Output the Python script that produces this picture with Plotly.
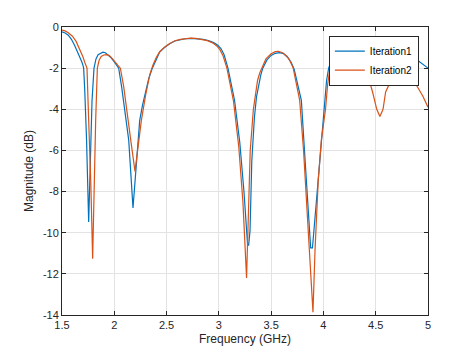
import plotly.graph_objects as go

# Iteration1 (blue)
freq1 = [1.50, 1.53, 1.56, 1.59, 1.62, 1.645, 1.67, 1.69, 1.70, 1.707, 1.717, 1.735, 1.755, 1.768, 1.781, 1.787, 1.806,
         1.825, 1.845, 1.87, 1.892, 1.915, 1.94, 1.97, 2.00, 2.042, 2.07, 2.099, 2.138, 2.179, 2.215, 2.243,
         2.27, 2.30, 2.33, 2.364, 2.40, 2.434, 2.48, 2.53, 2.58, 2.63, 2.68, 2.737, 2.79, 2.85,
         2.90, 2.95, 2.99, 3.02, 3.05, 3.087, 3.15, 3.20, 3.24, 3.275, 3.285, 3.298, 3.315, 3.34,
         3.36, 3.38, 3.40, 3.42, 3.46, 3.50, 3.54, 3.58, 3.62, 3.66, 3.69, 3.72, 3.76, 3.789, 3.83, 3.878,
         3.895, 3.92, 3.955, 4.01, 4.03, 4.05, 4.07, 4.09, 4.12, 4.15, 4.22, 4.30, 4.38, 4.46, 4.50, 4.54,
         4.58, 4.61, 4.66, 4.72, 4.78, 4.85, 4.90, 4.95, 5.00]
mag1 = [-0.24, -0.29, -0.4, -0.6, -0.89, -1.15, -1.46, -1.7, -1.85, -2.0, -3.0, -5.5, -9.48, -7.0, -4.54, -3.6, -2.0,
        -1.55, -1.35, -1.26, -1.22, -1.25, -1.35, -1.5, -1.7, -2.0, -2.9, -4.0, -5.5, -8.8, -6.4, -4.54,
        -3.8, -3.2, -2.5, -2.0, -1.55, -1.22, -1.0, -0.81, -0.68, -0.61, -0.57, -0.55, -0.56, -0.6,
        -0.66, -0.76, -0.89, -1.05, -1.35, -2.0, -3.56, -5.6, -8.0, -10.6, -10.6, -9.9, -6.5, -4.4,
        -3.4, -2.8, -2.35, -2.0, -1.6, -1.38, -1.28, -1.25, -1.3, -1.48, -1.7, -2.05, -2.9, -3.57, -6.9, -10.74,
        -10.74, -9.2, -7.0, -3.57, -2.6, -2.0, -1.72, -1.58, -1.45, -1.38, -1.3, -1.35, -1.48, -1.75, -2.15, -2.7,
        -2.2, -1.75, -1.45, -1.35, -1.35, -1.45, -1.62, -1.8, -2.0]

# Iteration2 (orange)
freq2 = [1.50, 1.53, 1.56, 1.60, 1.635, 1.669, 1.70, 1.72, 1.739, 1.755, 1.775, 1.793, 1.81, 1.822, 1.838,
         1.855, 1.875, 1.90, 1.924, 1.95, 1.975, 2.00, 2.03, 2.058, 2.09, 2.116, 2.16, 2.198, 2.23, 2.259,
         2.30, 2.34, 2.37, 2.40, 2.434, 2.48, 2.53, 2.58, 2.63, 2.68, 2.73, 2.78, 2.84,
         2.89, 2.94, 2.98, 3.01, 3.04, 3.077, 3.14, 3.19, 3.23, 3.265, 3.285, 3.30, 3.33, 3.35, 3.37,
         3.39, 3.41, 3.45, 3.50, 3.54, 3.57, 3.61, 3.65, 3.68, 3.71, 3.75, 3.773, 3.81, 3.85, 3.88,
         3.90, 3.92, 3.95, 3.98, 4.02, 4.04, 4.06, 4.09, 4.12, 4.15, 4.22, 4.30, 4.36, 4.41, 4.47,
         4.51, 4.54, 4.57, 4.595, 4.65, 4.70, 4.76, 4.82, 4.89, 4.95, 5.00]
mag2 = [-0.15, -0.19, -0.28, -0.45, -0.7, -1.05, -1.45, -1.75, -2.0, -4.54, -7.5, -11.26, -7.0, -4.54, -2.0,
        -1.62, -1.43, -1.36, -1.34, -1.38, -1.5, -1.65, -1.85, -2.0, -2.9, -4.0, -5.6, -7.02, -5.6, -4.54,
        -3.3, -2.3, -1.85, -1.5, -1.2, -0.98, -0.8, -0.67, -0.6, -0.56, -0.54, -0.55, -0.59,
        -0.66, -0.77, -0.92, -1.1, -1.4, -2.0, -3.6, -5.8, -8.5, -12.2, -8.5, -6.0, -4.0, -3.15, -2.6,
        -2.25, -2.0, -1.55, -1.3, -1.2, -1.18, -1.25, -1.42, -1.65, -1.98, -3.0, -3.57, -6.0, -9.3, -11.8,
        -13.86, -10.8, -7.5, -5.5, -4.0, -2.8, -2.1, -1.65, -1.5, -1.42, -1.35, -1.45, -1.65, -2.1, -3.16,
        -4.0, -4.35, -4.0, -3.16, -2.55, -2.3, -2.22, -2.38, -2.83, -3.35, -3.9]

x_ticks = [1.5, 2, 2.5, 3, 3.5, 4, 4.5, 5]
y_ticks = [0, -2, -4, -6, -8, -10, -12, -14]

fig = go.Figure()
fig.add_trace(go.Scatter(x=freq1, y=mag1, mode="lines", name="Iteration1",
                         line=dict(color="#0072BD", width=1.2)))
fig.add_trace(go.Scatter(x=freq2, y=mag2, mode="lines", name="Iteration2",
                         line=dict(color="#D95319", width=1.2)))

axis_common = dict(
    showgrid=True, gridcolor="#e3e3e3", gridwidth=1,
    showline=True, linecolor="#262626", linewidth=1, mirror="allticks",
    ticks="inside", ticklen=4, tickcolor="#262626",
    tickfont=dict(family="Liberation Sans, Arial, sans-serif", size=11, color="#262626"),
    zeroline=False, automargin=False,
)

fig.update_layout(
    width=466, height=347,
    margin=dict(l=54, r=46, t=19, b=40),
    paper_bgcolor="white", plot_bgcolor="white",
    font=dict(family="Liberation Sans, Arial, sans-serif", color="#262626"),
    xaxis=dict(range=[1.5, 5], tickvals=x_ticks, ticktext=[str(v) for v in x_ticks],
               title=dict(text="Frequency (GHz)", font=dict(size=12, color="#262626"), standoff=4),
               **axis_common),
    yaxis=dict(range=[-14, 0], tickvals=y_ticks, ticktext=[str(v) for v in y_ticks],
               title=dict(text="Magnitude (dB)", font=dict(size=12, color="#262626"), standoff=6),
               **axis_common),
    legend=dict(x=0.975, y=0.97, xanchor="right", yanchor="top",
                bgcolor="white", bordercolor="#262626", borderwidth=1,
                font=dict(family="Liberation Sans, Arial, sans-serif", size=10, color="#000000"),
                tracegroupgap=0, itemwidth=30),
    showlegend=True,
)

fig.write_html("out.html")
